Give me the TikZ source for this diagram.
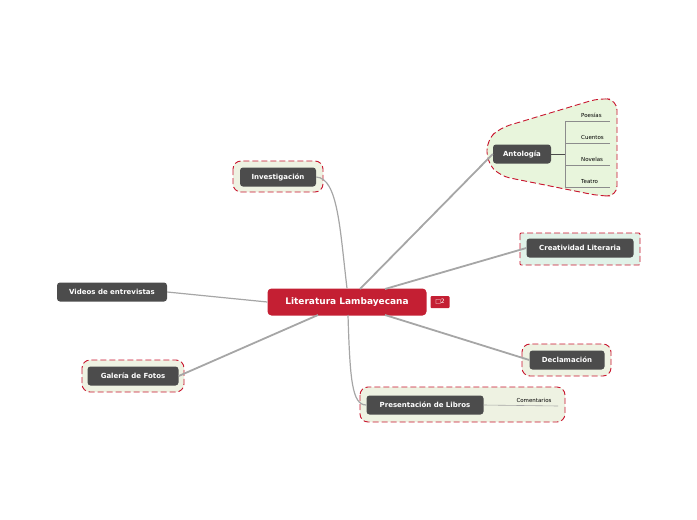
\documentclass[tikz,border=0pt]{standalone}
\usepackage{fontspec}
\setmainfont{DejaVu Sans}
\begin{document}
\begin{tikzpicture}[x=1pt,y=-1pt,
  topic/.style={fill=black!70,draw=none,rounded corners=3pt,text=white,font=\bfseries\fontsize{7}{8}\selectfont,minimum height=19pt,inner sep=0pt},
  bnd/.style={draw={rgb,255:red,200;green,20;blue,45},dashed,dash pattern=on 6pt off 3pt,rounded corners=8pt,line width=0.9pt},
  con/.style={draw=black!35,line width=1.2pt},
  sub/.style={font=\fontsize{5.5}{6}\selectfont,inner sep=1pt}]
\useasboundingbox (0,0) rectangle (697,520);
\definecolor{mainred}{RGB}{196,31,51}
\definecolor{lg}{RGB}{232,245,220}
\definecolor{lb}{RGB}{238,242,226}
\definecolor{lt}{RGB}{225,242,232}
% boundaries
\path[bnd,fill=lb] (233,161) rectangle (323,192);
\path[bnd,fill=lg,rounded corners=10pt] (487,140) -- (500,128) -- (600,98) -- (617,100) -- (617,196) -- (600,196) -- (500,176) -- (487,162) -- cycle;
\path[bnd,fill=lt,rounded corners=1pt] (520,233) rectangle (640,265);
\path[bnd,fill=lb] (522,344) rectangle (611,376);
\path[bnd,fill=lb] (360,387) rectangle (565,422);
\path[bnd,fill=lb] (82,360) rectangle (184,392);
% nodes
\node[fill=mainred,rounded corners=4pt,text=white,font=\bfseries\fontsize{9}{10}\selectfont,minimum width=159pt,minimum height=27pt] (c) at (347,302) {Literatura Lambayecana};
\node[fill=mainred,rounded corners=1pt,text=white,font=\fontsize{6}{6}\selectfont,minimum width=19pt,minimum height=12pt,inner sep=0pt] (cm) at (440,302) {□2};
\node[topic,minimum width=76pt] (inv) at (278,177) {Investigación};
\node[topic,minimum width=58pt] (ant) at (522,154) {Antología};
\node[topic,minimum width=107pt] (cre) at (580,248) {Creatividad Literaria};
\node[topic,minimum width=75pt] (dec) at (567,360) {Declamación};
\node[topic,minimum width=117pt] (pre) at (425,405) {Presentación de Libros};
\node[topic,minimum width=91pt] (gal) at (133,376) {Galería de Fotos};
\node[topic,minimum width=110pt] (vid) at (112,292) {Videos de entrevistas};
% connectors
\draw[con] (c.north) .. controls (340,230) and (338,178) .. (inv.east);
\draw[con,line width=1.8pt] (360,289) -- (ant.west);
\draw[con,line width=1.8pt] (385,289) -- (cre.west);
\draw[con,line width=1.8pt] (385,315) -- (dec.west);
\draw[con] (348,315) .. controls (350,380) and (352,405) .. (pre.west);
\draw[con,line width=1.8pt] (318,315) -- (gal.east);
\draw[con] (c.west) -- (vid.east);
% antologia subtopics
\coordinate (b) at (565,154);
\draw[black!70,line width=1pt] (ant.east) -- (b);
\draw[black!45,line width=0.6pt] (565,121) -- (565,187);
\foreach \y/\t in {121/Poesías,143/Cuentos,165/Novelas,187/Teatro}{
  \draw[black!45,line width=0.6pt] (565,\y) -- (610,\y);
  \node[sub,anchor=south west] at (580,\y-2) {\t};
}
\draw[black!35,line width=0.6pt] (pre.east) -- (558,406);
\node[sub,anchor=south] at (534,404) {Comentarios};
\end{tikzpicture}
\end{document}
